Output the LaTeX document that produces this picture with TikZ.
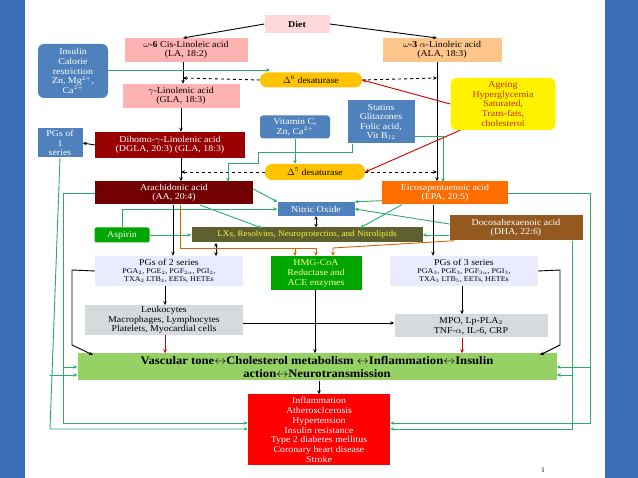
\documentclass[tikz,border=0pt]{standalone}
\usepackage{fontspec}
\setmainfont[FakeStretch=1.1]{Liberation Serif}
\usetikzlibrary{arrows.meta}
\begin{document}
\begin{tikzpicture}[x=1pt,y=-1pt,
 bx/.style={draw=none,align=center,inner sep=1pt,font=\fontsize{9}{9.6}\selectfont},
 ar/.style={-{Stealth[length=4pt,width=3.5pt]},line width=0.9pt},
 blk/.style={ar,black},
 red/.style={ar,draw=red!85!black,fill=red!85!black},
 org/.style={ar,draw=orange!80!black},
 dsh/.style={ar,dashed,black},
 dbl/.style={{Stealth[length=3.5pt,width=3.5pt]}-{Stealth[length=3.5pt,width=3.5pt]},line width=0.9pt}]
\useasboundingbox (0,0) rectangle (638,478);
\definecolor{bg}{HTML}{3A6DB5}
\fill[bg] (0,0) rectangle (638,478);
\fill[white] (25,0) rectangle (605,478);
\definecolor{gl}{HTML}{2EAA6A}
\definecolor{bb}{HTML}{4F81BD}
\tikzset{grn/.style={ar,draw=gl}}
% nodes
\node[bx,fill=red!15,minimum width=65,minimum height=18] (diet) at (297,24) {\textbf{Diet}};
\node[bx,fill=red!30,minimum width=123,minimum height=24] (la) at (186,50) {\textbf{$\omega$-6} Cis-Linoleic acid\\(LA, 18:2)};
\node[bx,fill=orange!45,minimum width=119,minimum height=24] (ala) at (442,50) {\textbf{$\omega$-3 $\alpha$}-Linoleic acid\\(ALA, 18:3)};
\node[bx,fill=bb,text=white,rounded corners=6pt,minimum width=70,minimum height=54,font=\fontsize{9}{9.8}\selectfont] (ins) at (73,71) {Insulin\\Calorie\\restriction\\Zn, Mg$^{2+}$,\\Ca$^{2+}$};
\node[bx,fill=orange!30!yellow!90!red,rounded corners=7pt,minimum width=102,minimum height=15] (d6) at (311,80) {$\Delta^6$ desaturase};
\node[bx,fill=red!30,minimum width=117,minimum height=24] (gla) at (181,96) {\textbf{$\gamma$}-Linolenic acid\\(GLA, 18:3)};
\node[bx,fill=yellow,rounded corners=6pt,text=red!50!orange!75!black,minimum width=105,minimum height=52] (age) at (503,104) {Ageing\\Hyperglycemia\\Saturated,\\Trans-fats,\\cholesterol};
\node[bx,fill=bb,text=white,minimum width=67,minimum height=43] (sta) at (381,122) {Statins\\Glitazones\\Folic acid,\\Vit B$_{12}$};
\node[bx,fill=bb,text=white,rounded corners=3pt,minimum width=70,minimum height=23] (vit) at (295,127) {Vitamin C,\\Zn, Ca$^{2+}$};
\node[bx,fill=bb,text=white,minimum width=45,minimum height=29] (pg1) at (60,143) {PGs of\\1\\series};
\node[bx,fill=red!60!black,text=white,minimum width=150,minimum height=26] (dgla) at (170,145) {Dihomo-$\gamma$-Linolenic acid\\(DGLA, 20:3) (GLA, 18:3)};
\node[bx,fill=orange!30!yellow!90!red,rounded corners=7pt,minimum width=100,minimum height=16] (d5) at (315,172) {$\Delta^5$ desaturase};
\node[bx,fill=red!45!black,text=white,minimum width=158,minimum height=23] (aa) at (174,193) {Arachidonic acid\\(AA, 20:4)};
\node[bx,fill=orange!85!red,text=white,minimum width=126,minimum height=23] (epa) at (445,193) {Eicosapentaenoic acid\\(EPA, 20:5)};
\node[bx,fill=bb,text=white,minimum width=77,minimum height=14] (no) at (316,209) {Nitric Oxide};
\node[bx,fill=brown!70!orange!70!black,text=white,minimum width=133,minimum height=25] (dha) at (516,228) {Docosahexaenoic acid\\(DHA, 22:6)};
\node[bx,fill=green!65!black,text=white,rounded corners=2pt,minimum width=55,minimum height=15] (asp) at (122,235) {Aspirin};
\node[bx,fill=olive!50!black!90!green,text=yellow!80,minimum width=231,minimum height=15,font=\fontsize{8.3}{9}\selectfont] (lx) at (307,235) {LXs, Resolvins, Neuroprotectins, and Nitrolipids};
\node[bx,fill=blue!8,minimum width=148,minimum height=30,font=\fontsize{7.3}{8}\selectfont] (pg2) at (169,271) {{\fontsize{9}{9}\selectfont PGs of 2 series}\\PGA$_2$, PGE$_2$, PGF$_{2\alpha}$, PGI$_2$,\\TXA$_2$ LTB$_4$, EETs, HETEs};
\node[bx,fill=green!65!black,text=yellow!40,minimum width=91,minimum height=34,font=\fontsize{9}{10}\selectfont] (hmg) at (316,273) {HMG-CoA\\Reductase and\\ACE enzymes};
\node[bx,fill=blue!8,minimum width=148,minimum height=30,font=\fontsize{7.3}{8}\selectfont] (pg3) at (464,271) {{\fontsize{9}{9}\selectfont PGs of 3 series}\\PGA$_3$, PGE$_3$, PGF$_{3\alpha}$, PGI$_3$,\\TXA$_3$ LTB$_5$, EETs, HETEs};
\node[bx,fill=blue!20!cyan!10!gray!30,minimum width=158,minimum height=29] (leu) at (164,320) {Leukocytes\\Macrophages, Lymphocytes\\Platelets, Myocardial cells};
\node[bx,fill=blue!20!cyan!10!gray!30,minimum width=153,minimum height=23] (mpo) at (471,326) {MPO, Lp-PLA$_2$\\TNF-\textbf{$\alpha$}, IL-6, CRP};
\node[bx,fill=lime!60!green!70!black!60,minimum width=479,minimum height=27,font=\bfseries\fontsize{11.5}{13.5}\selectfont] (main) at (317,367) {Vascular tone$\leftrightarrow$Cholesterol metabolism $\leftrightarrow$Inflammation$\leftrightarrow$Insulin\\action$\leftrightarrow$Neurotransmission};
\node[bx,fill=red,text=white,minimum width=142,minimum height=71,font=\fontsize{9}{9.8}\selectfont] (dis) at (319,430) {Inflammation\\Atherosclcerosis\\Hypertension\\Insulin resistance\\Type 2 diabetes mellitus\\Coronary heart disease\\Stroke};
\node[font=\fontsize{7}{8}\selectfont] (one) at (543,470) {1};
% coordinates
\coordinate (d6l) at (183,78); \coordinate (d6r) at (437,78);
\coordinate (d5l) at (181,172); \coordinate (d5r) at (437,172);
% black main chain
\draw[blk] (diet.west) -- (183,38);
\draw[blk] (diet.east) -- (437,38);
\draw[blk] (la.south-|183,0) -- (gla.north-|183,0);
\draw[blk] (gla.south-|181,0) -- (dgla.north-|181,0);
\draw[blk] (dgla.south-|181,0) -- (aa.north-|181,0);
\draw[blk] (dgla.west) -- (pg1.east);
\draw[blk] (ala.south-|437,0) -- (epa.north-|437,0);
\draw[dsh] (d6.west) -- (d6l);
\draw[dsh] (d6.east) -- (d6r);
\draw[dsh] (d5.west) -- (d5l);
\draw[dsh] (d5.east) -- (d5r);
% green inputs
\draw[grn] (ins.east|-0,70) -- (270,70);
\draw[grn] (vit.south) -- (vit.south|-d5.north);
\draw[grn] (sta.south west) ++(5,0) |- (258,152) |- (228,163) -- (228,182);
\draw[grn] (sta.east|-0,136) -| (443,182);
\draw[red] (age.west) -- (d6.east);
\draw[red] (age.south west) ++(10,0) -- (d5.east);
% green left loops
\draw[grn] (pg1.south) -- (50,429) -- (dis.west|-0,429);
\draw[grn] (50,375) -- (main.west|-0,375);
\draw[grn] (aa.west) -| (63,423) -- (dis.west|-0,423);
\draw[grn] (63,367) -- (main.west|-0,367);
% green right loops
\draw[grn] (epa.east) -| (590,423) -- (dis.east|-0,423);
\draw[grn] (590,367) -- (main.east|-0,367);
\draw[grn] (dha.south-|572,0) -- (572,429) -- (dis.east|-0,429);
\draw[grn] (572,375) -- (main.east|-0,375);
% green to NO and LX
\draw[grn] (aa.east) ++(0,-4) -- (no.north west);
\draw[grn] (200,205) -- (262,228);
\draw[grn] (asp.east) -- (lx.west);
\draw[grn] (asp.north) |- (no.west);
\draw[grn] (epa.south west) ++(0,-4) -- (no.north east);
\draw[grn] (epa.south west) ++(20,0) -- (360,228);
\draw[grn] (dha.west) ++(0,-4) -- (no.east);
\draw[grn] (dha.west|-lx) -- (lx.east);
\draw[dbl] (no.south) -- (lx.north-|no.south);
\draw[dbl] (216,243) -- (216,256);
% orange
\draw[org] (180,205) |- (295,248) -- (295,256);
\draw[org] (295,248) -| (316,256);
\draw[org] (dha.south west) ++(5,0) -- (333,248) -- (333,256);
% black lower
\draw[blk] (173,205) -- (pg2.north-|173,0);
\draw[blk] (433,205) -- (pg3.north-|433,0);
\draw[blk] (pg2.south-|165,0) -- (leu.north-|165,0);
\draw[blk] (pg3.south-|462,0) -- (mpo.north-|462,0);
\draw[blk] (leu.east|-0,323) -- (mpo.west|-0,323);
\draw[red] (leu.south-|165,0) -- (main.north-|165,0);
\draw[red] (mpo.south-|462,0) -- (main.north-|462,0);
\draw[blk] (hmg.south-|315,0) -- (main.north-|315,0);
\draw[blk] (pg2.west) -- (72,270) -- (72,345) -- (93,355);
\draw[blk] (pg3.east) -- (560,270) -- (560,345) -- (540,355);
\draw[blk] (main.south-|319,0) -- (dis.north);
\end{tikzpicture}
\end{document}
